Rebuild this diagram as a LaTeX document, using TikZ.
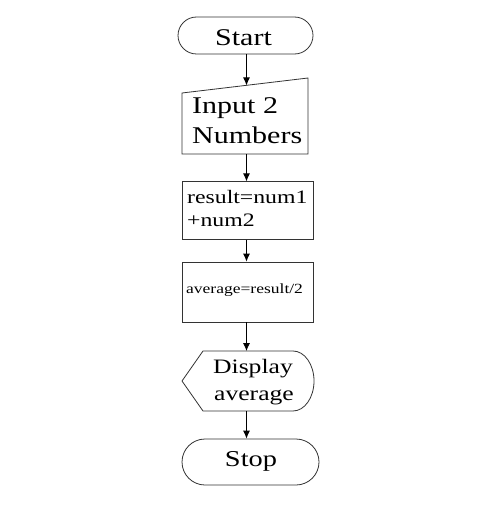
\documentclass[tikz,border=0pt]{standalone}
\usepackage{fontspec}
\setmainfont[FakeStretch=1.25]{Liberation Serif}
\usetikzlibrary{arrows.meta}
\tikzset{
  outline/.style={draw=black!80, line width=0.8pt},
  termbox/.style={outline, rectangle, inner sep=0pt},
  procbox/.style={outline, rectangle, inner sep=0pt, minimum width=131pt},
  flow/.style={draw=black, line width=0.8pt, -{Latex[length=8pt,width=7pt]}},
  txt/.style={inner sep=0pt, text=black},
}
\begin{document}
\begin{tikzpicture}[x=1pt,y=-1pt]
\useasboundingbox (0,0) rectangle (503,508);
% Start terminator
\node[termbox, rounded corners=18.5pt, minimum width=135pt, minimum height=37pt] (start) at (245.5,35.5) {};
\node[txt, anchor=base, font=\fontsize{24}{28}\selectfont] (starttxt) at (243.5,46) {Start};
% Manual input
\coordinate (inTL) at (182,93);
\coordinate (inTR) at (308,78);
\coordinate (inBR) at (308,154);
\coordinate (inBL) at (182,154);
\coordinate (intop) at (246.5,85.4);
\coordinate (inbot) at (246.5,154);
\draw[outline] (inTL) -- (inTR) -- (inBR) -- (inBL) -- cycle;
\node[txt, anchor=base west, font=\fontsize{24}{28}\selectfont] (in1) at (192,113.3) {Input 2};
\node[txt, anchor=base west, font=\fontsize{24}{28}\selectfont] (in2) at (192,143.3) {Numbers};
% Process 1
\node[procbox, minimum height=57.5pt] (p1) at (247.5,210.5) {};
\node[txt, anchor=base west, font=\fontsize{19}{22}\selectfont] (p1a) at (187,203.3) {result=num1};
\node[txt, anchor=base west, font=\fontsize{19}{22}\selectfont] (p1b) at (187,226.7) {+num2};
% Process 2
\node[procbox, minimum height=60pt] (p2) at (247.5,292) {};
\node[txt, anchor=base west, font=\fontsize{14}{16}\selectfont] (p2a) at (186,293.3) {average=result/2};
% Display
\coordinate (dL) at (182,381);
\coordinate (dTL) at (203,351);
\coordinate (dTR) at (293,351);
\coordinate (dBL) at (203,411);
\coordinate (dtop) at (246.5,351);
\coordinate (dbot) at (246.5,411);
\draw[outline] (dL) -- (dTL) -- (dTR) arc[start angle=-90, end angle=90, x radius=21, y radius=30] -- (dBL) -- cycle;
\node[txt, anchor=base, font=\fontsize{20.5}{24}\selectfont] (d1) at (253,373.3) {Display};
\node[txt, anchor=base, font=\fontsize{20.5}{24}\selectfont] (d2) at (254,400.7) {average};
% Stop terminator
\node[termbox, rounded corners=23pt, minimum width=137pt, minimum height=46pt] (stop) at (250.5,462) {};
\node[txt, anchor=base, font=\fontsize{22.7}{26}\selectfont] (stoptxt) at (251,466.7) {Stop};
% Connectors
\draw[flow] (start.south -| intop) -- (intop);
\draw[flow] (inbot) -- (inbot |- p1.north);
\draw[flow] (p1.south -| inbot) -- (inbot |- p2.north);
\draw[flow] (p2.south -| inbot) -- (dtop);
\draw[flow] (dbot) -- (dbot |- stop.north);
\end{tikzpicture}
\end{document}
